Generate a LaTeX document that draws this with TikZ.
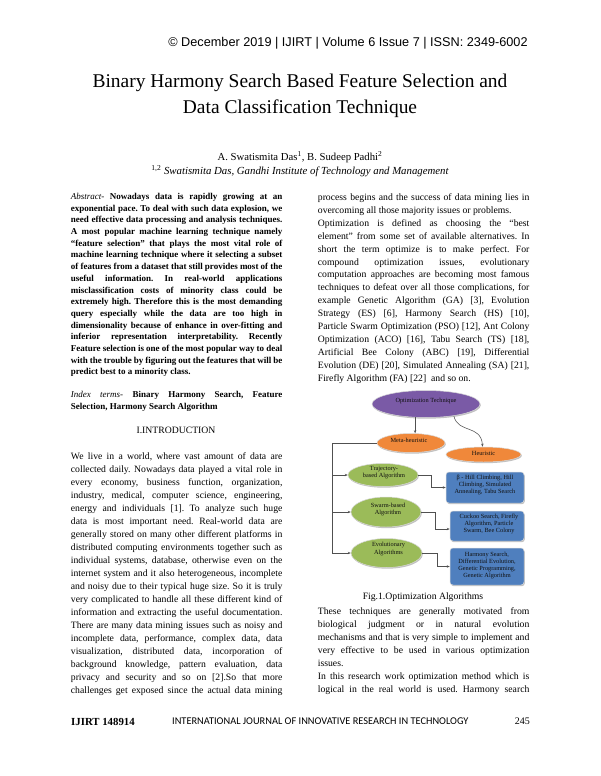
\documentclass[tikz,border=0pt]{standalone}
\usepackage{fontspec}
\usepackage{tikz}
\usetikzlibrary{shapes.geometric,shadows,arrows.meta}
\setmainfont{Liberation Serif}
\newfontfamily\headfont{Liberation Sans}
\newfontfamily\footfont{Carlito}
\frenchspacing
\definecolor{optpurple}{HTML}{7A5AA6}
\definecolor{metaorange}{HTML}{F0883A}
\definecolor{algogreen}{HTML}{9BBB59}
\definecolor{boxblue}{HTML}{4F7FBE}
\definecolor{connline}{HTML}{505050}
\definecolor{labelink}{HTML}{101010}
\newlength{\colwd}
\setlength{\colwd}{211.5pt}
\newcommand{\jl}[1]{\makebox[\colwd][s]{#1}\\}
\tikzset{
  oval/.style={ellipse,draw=white!85!black,line width=.5pt,inner sep=0pt,
    drop shadow={shadow xshift=.8pt,shadow yshift=-1.2pt,fill=black!30,opacity=.8}},
  bluebox/.style={rectangle,rounded corners=3pt,fill=boxblue,draw=white!85!black,line width=.5pt,inner sep=0pt,
    drop shadow={shadow xshift=.8pt,shadow yshift=-1.2pt,fill=black!30,opacity=.8}},
  lbl/.style={inner sep=0pt,align=center,text=labelink,font=\fontsize{6.3}{7.1}\selectfont},
  conn/.style={draw=connline,line width=.55pt,-{Stealth[length=3pt,width=2.4pt]}},
  plain/.style={draw=connline,line width=.55pt},
  body/.style={inner sep=0pt,anchor=north west,align=left,font=\fontsize{9.7}{13}\selectfont},
  boldbody/.style={inner sep=0pt,anchor=north west,align=left,font=\fontsize{9}{11.7}\selectfont\bfseries}
}
\begin{document}
\begin{tikzpicture}[x=1pt,y=-1pt]
  \useasboundingbox[fill=white] (0,0) rectangle (600,776);
  \node(header)[inner sep=0pt,font=\headfont\fontsize{12.7}{14}\selectfont] at (348,43) {© December 2019 | IJIRT | Volume 6 Issue 7 | ISSN: 2349-6002};
  \node(title)[inner sep=0pt,align=center,font=\fontsize{19.45}{26}\selectfont] at (300,96) {Binary Harmony Search Based Feature Selection and\\Data Classification Technique};
  \node(authors)[inner sep=0pt,font=\fontsize{10.7}{12}\selectfont] at (300,157) {A. Swatismita Das\textsuperscript{1}, B. Sudeep Padhi\textsuperscript{2}};
  \node(affil)[inner sep=0pt,font=\fontsize{10.8}{12}\selectfont] at (300,171) {\textsuperscript{1,2} \itshape Swatismita Das, Gandhi Institute of Technology and Management};

  \node(abstract)[boldbody] at (70.7,193) {%
    \jl{\textit{\mdseries Abstract-} Nowadays data is rapidly growing at an}%
    \jl{exponential pace. To deal with such data explosion, we}%
    \jl{need effective data processing and analysis techniques.}%
    \jl{A most popular machine learning technique namely}%
    \jl{“feature selection” that plays the most vital role of}%
    \jl{machine learning technique where it selecting a subset}%
    \jl{of features from a dataset that still provides most of the}%
    \jl{useful information. In real-world applications}%
    \jl{misclassification costs of minority class could be}%
    \jl{extremely high. Therefore this is the most demanding}%
    \jl{query especially while the data are too high in}%
    \jl{dimensionality because of enhance in over-fitting and}%
    \jl{inferior representation interpretability. Recently}%
    \jl{Feature selection is one of the most popular way to deal}%
    \jl{with the trouble by figuring out the features that will be}%
    predict best to a minority class.};
  \node(indexterms)[boldbody] at (70.7,391.5) {%
    \jl{\textit{\mdseries Index terms-} Binary Harmony Search, Feature}%
    Selection, Harmony Search Algorithm};
  \node(intro)[inner sep=0pt,font=\fontsize{9.7}{12}\selectfont] at (176,430) {I.INTRODUCTION};
  \node(introtext)[body] at (70.7,452.5) {%
    \jl{We live in a world, where vast amount of data are}%
    \jl{collected daily. Nowadays data played a vital role in}%
    \jl{every economy, business function, organization,}%
    \jl{industry, medical, computer science, engineering,}%
    \jl{energy and individuals [1]. To analyze such huge}%
    \jl{data is most important need. Real-world data are}%
    \jl{generally stored on many other different platforms in}%
    \jl{distributed computing environments together such as}%
    \jl{individual systems, database, otherwise even on the}%
    \jl{internet system and it also heterogeneous, incomplete}%
    \jl{and noisy due to their typical huge size. So it is truly}%
    \jl{very complicated to handle all these different kind of}%
    \jl{information and extracting the useful documentation.}%
    \jl{There are many data mining issues such as noisy and}%
    \jl{incomplete data, performance, complex data, data}%
    \jl{visualization, distributed data, incorporation of}%
    \jl{background knowledge, pattern evaluation, data}%
    \jl{privacy and security and so on [2].So that more}%
    \jl{challenges get exposed since the actual data mining}};

  \node(righttop)[body,font=\fontsize{9.7}{12.9}\selectfont] at (317.7,193.5) {%
    \jl{process begins and the success of data mining lies in}%
    overcoming all those majority issues or problems.\\
    \jl{Optimization is defined as choosing the “best}%
    \jl{element” from some set of available alternatives. In}%
    \jl{short the term optimize is to make perfect. For}%
    \jl{compound optimization issues, evolutionary}%
    \jl{computation approaches are becoming most famous}%
    \jl{techniques to defeat over all those complications, for}%
    \jl{example Genetic Algorithm (GA) [3], Evolution}%
    \jl{Strategy (ES) [6], Harmony Search (HS) [10],}%
    \jl{Particle Swarm Optimization (PSO) [12], Ant Colony}%
    \jl{Optimization (ACO) [16], Tabu Search (TS) [18],}%
    \jl{Artificial Bee Colony (ABC) [19], Differential}%
    \jl{Evolution (DE) [20], Simulated Annealing (SA) [21],}%
    Firefly Algorithm (FA) [22]\ \ and so on.};

  \node(opt)[oval,fill=optpurple,minimum width=108pt,minimum height=27pt] at (426,404) {};
  \node(opttext)[lbl] at ([yshift=3pt]opt.center) {Optimization Technique};
  \node(meta)[oval,fill=metaorange,minimum width=68pt,minimum height=19pt] at (411,443) {};
  \node(metatext)[lbl] at ([xshift=-2pt,yshift=3pt]meta.center) {Meta-heuristic};
  \node(heur)[oval,fill=metaorange,minimum width=75pt,minimum height=15pt] at (483.5,454.5) {};
  \node(heurtext)[lbl] at ([yshift=1.5pt]heur.center) {Heuristic};
  \node(traj)[oval,fill=algogreen,minimum width=70pt,minimum height=23pt] at (383,475) {};
  \node(trajtext)[lbl] at ([yshift=2pt,xshift=1pt]traj.center) {Trajectory-\\based Algorithm};
  \node(swarm)[oval,fill=algogreen,minimum width=70pt,minimum height=30pt] at (386,512) {};
  \node(swarmtext)[lbl] at ([yshift=2.5pt,xshift=2pt]swarm.center) {Swarm-based\\Algorithm};
  \node(evol)[oval,fill=algogreen,minimum width=71pt,minimum height=29pt] at (386.5,553) {};
  \node(evoltext)[lbl] at ([yshift=4pt,xshift=2pt]evol.center) {Evolutionary\\Algorithms};
  \node(hillbox)[bluebox,minimum width=78pt,minimum height=31pt] at (485,487.5) {};
  \node(hilltext)[lbl] at ([yshift=2.5pt]hillbox.center) {β - Hill Climbing, Hill\\Climbing, Simulated\\Annealing, Tabu Search};
  \node(cuckoobox)[bluebox,minimum width=74pt,minimum height=30pt] at (487,526) {};
  \node(cuckootext)[lbl] at ([yshift=2pt,xshift=2pt]cuckoobox.center) {Cuckoo Search, Firefly\\Algorithm, Particle\\Swarm, Bee Colony};
  \node(harmonybox)[bluebox,minimum width=74pt,minimum height=37pt] at (487,566.5) {};
  \node(harmonytext)[lbl] at ([yshift=1pt]harmonybox.center) {Harmony Search,\\Differential Evolution,\\Genetic Programming,\\Genetic Algorithm};

  \coordinate (bustop) at (332,443);
  \draw[conn] (opt.-129) -- (opt.-129 |- meta.north);
  \draw[conn] (opt.-23) .. controls (458,434) and (481,424) .. (heur.97);
  \draw[plain] (meta.west) -- (bustop);
  \draw[conn] (bustop) |- (traj.west);
  \draw[conn] (bustop) |- (swarm.west);
  \draw[conn] (bustop) |- (evol.west);
  \draw[conn] (traj.east) -- ++(13,0) |- (hillbox.west);
  \draw[conn] (swarm.east) -- ++(14,0) |- ([yshift=-3pt]cuckoobox.west);
  \draw[conn] (evol.east) -- ++(15,0) |- (harmonybox.west);

  \node(caption)[inner sep=0pt,font=\fontsize{9.7}{12}\selectfont] at (423,597) {Fig.1.Optimization Algorithms};
  \node(rightbottom)[body] at (317.7,607) {%
    \jl{These techniques are generally motivated from}%
    \jl{biological judgment or in natural evolution}%
    \jl{mechanisms and that is very simple to implement and}%
    \jl{very effective to be used in various optimization}%
    issues.\\
    \jl{In this research work optimization method which is}%
    \jl{logical in the real world is used. Harmony search}};

  \node(footleft)[inner sep=0pt,anchor=west,font=\fontsize{10.8}{12}\selectfont\bfseries] at (71,721.5) {IJIRT 148914};
  \node(footmid)[inner sep=0pt,anchor=west,font=\footfont\fontsize{10.35}{12}\selectfont] at (172,721.5) {INTERNATIONAL JOURNAL OF INNOVATIVE RESEARCH IN TECHNOLOGY};
  \node(footpage)[inner sep=0pt,anchor=east,font=\fontsize{10}{12}\selectfont] at (530,721.5) {245};
\end{tikzpicture}
\end{document}
